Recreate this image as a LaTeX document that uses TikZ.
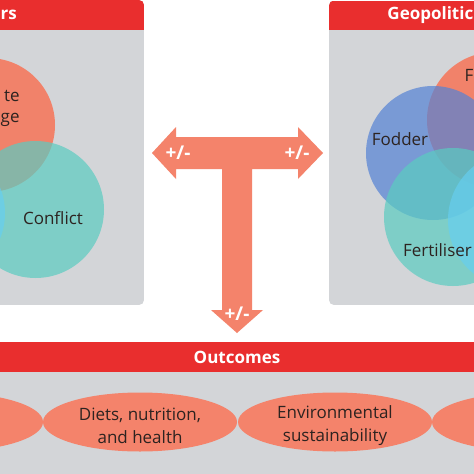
\documentclass[tikz,border=0pt]{standalone}
\usepackage{fontspec}
\setmainfont{Open Sans}
\usetikzlibrary{positioning,shapes.geometric}
\definecolor{fdred}{RGB}{233,46,46}
\definecolor{fdgray}{RGB}{211,213,216}
\definecolor{fdsalmon}{RGB}{244,131,107}
\definecolor{vnsalmon}{RGB}{255,96,60}
\definecolor{vnteal}{RGB}{90,204,193}
\definecolor{vnblue}{RGB}{84,130,213}
\definecolor{vnsky}{RGB}{102,206,239}
\definecolor{fdtext}{RGB}{45,35,32}

\begin{document}
\begin{tikzpicture}[x=1pt,y=-1pt,font=\fontsize{17}{21}\selectfont,every node/.style={align=center,inner sep=0pt},
    hdtext/.style={text=white,font=\fontsize{17}{21}\selectfont\bfseries},
    venn/.style={fill opacity=0.7},
    vtext/.style={text=fdtext},
    pm/.style={text=white,font=\fontsize{19}{22}\selectfont\bfseries},
    outcome/.style={ellipse,fill=fdsalmon,minimum width=194pt,minimum height=59pt},
    otext/.style={text=fdtext,font=\fontsize{17}{23}\selectfont}]
    \useasboundingbox (0,0) rectangle (474,474);
    \fill[white] (0,0) rectangle (474,474);
    % drivers panel
    \begin{scope}
      \clip[rounded corners=5pt] (-20,0) rectangle (144,305);
      \fill[fdgray] (-20,0) rectangle (144,305);
      \fill[fdred] (-20,0) rectangle (144,30);
      \fill[venn,vnsalmon] (-12,125) circle (67pt);
      \fill[venn,vnteal] (35.5,209.5) circle (68.5pt);
      \fill[venn,vnsky] (-63,213) circle (68pt);
    \end{scope}
    \node[hdtext,anchor=west] (drv) at (0.5,15) {rs};
    \node[vtext,align=right,anchor=west] (clim) at (0.5,108) {te\\ge};
    \node[vtext] (confl) at (53,218) {Conflict};
    % geopolitics panel
    \begin{scope}
      \clip[rounded corners=5pt] (329,0.5) rectangle (500,305);
      \fill[fdgray] (329,0.5) rectangle (500,305);
      \fill[fdred] (329,0.5) rectangle (500,30);
      \fill[venn,vnsalmon] (495,120) circle (68pt);
      \fill[venn,vnblue] (433,153) circle (67pt);
      \fill[venn,vnteal] (453,217) circle (69pt);
      \fill[venn,vnsky] (517,220) circle (69pt);
    \end{scope}
    \node[hdtext,anchor=east] (geo) at (473.5,15) {Geopolitic};
    \node[vtext,anchor=east] (food) at (473.5,75) {F};
    \node[vtext] (fodd) at (400,139) {Fodder};
    \node[vtext] (fert) at (437.5,250) {Fertiliser};
    % T arrow
    \fill[fdsalmon] (152,153) -- (176,127) -- (176,137) -- (298,137) -- (298,127) -- (323,153) -- (298,179) -- (298,169)
      -- (252,169) -- (252,310) -- (263,310) -- (237,333) -- (211,310) -- (222,310) -- (222,169) -- (176,169) -- (176,179) -- cycle;
    \node[pm] (pmleft) at (178,153) {+/-};
    \node[pm] (pmright) at (297,153) {+/-};
    \node[pm] (pmdown) at (237,314) {+/-};
    % outcomes
    \fill[fdred] (-10,342) rectangle (484,372);
    \fill[fdgray] (-10,372) rectangle (484,484);
    \node[hdtext] (outc) at (237,357) {Outcomes};
    \node[outcome] (oc0) at (-54,422) {};
    \node[outcome] (diet) at (140,422) {};
    \node[outcome] (env) at (335,422) {};
    \node[outcome] (oc3) at (529,422) {};
    \node[otext] (diettx) at (140,426) {Diets, nutrition,\\and health};
    \node[otext] (envtx) at (335,426) {Environmental\\sustainability};
  \end{tikzpicture}
\end{document}
